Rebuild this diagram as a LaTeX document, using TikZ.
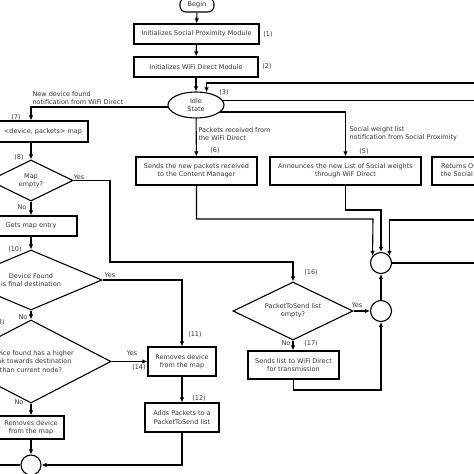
\documentclass[tikz,border=0pt]{standalone}
\usepackage{fontspec}
\setmainfont{DejaVu Sans}
\usetikzlibrary{shapes.geometric,arrows.meta}
\begin{document}
\begin{tikzpicture}[x=1pt,y=-1pt,line width=1.1pt,
  font=\fontsize{6.5}{8.2}\selectfont, text=black!80,
  box/.style={draw=black,rectangle,inner sep=0pt,align=center},
  dia/.style={draw=black,diamond,shape aspect=2,inner sep=0pt,align=center},
  circ/.style={draw=black,circle,minimum size=21pt,inner sep=0pt},
  arr/.style={-{Latex[length=5pt,width=4.5pt]}},
  lbl/.style={inner sep=0pt,align=left},
  num/.style={inner sep=0pt}]
\useasboundingbox (0,0) rectangle (474,474);
\clip (0,0) rectangle (474,474);
% main column
\node[box,rounded corners=6pt,minimum width=34pt,minimum height=14pt] (begin) at (197,5) {Begin};
\node[box,minimum width=125pt,minimum height=20pt] (b1) at (196.5,34) {Initializes Social Proximity Module};
\node[box,minimum width=124pt,minimum height=20pt] (b2) at (196,67) {Initializes WiFi Direct Module};
\node[draw=black,ellipse,minimum width=56pt,minimum height=26pt,inner sep=0pt,align=center] (idle) at (196,105) {Idle\\State};
\node[box,minimum width=121pt,minimum height=28pt] (b6) at (196.5,171) {Sends the new packets received\\to the Content Manager};
\node[box,minimum width=151pt,minimum height=28pt] (b5) at (345.5,171) {Announces the new List of Social weights\\through WiF Direct};
\node[box,minimum width=82pt,minimum height=28pt] (b4) at (473,171) {Returns Own List to\\the Social Proximity};
% left column
\node[box,minimum width=90pt,minimum height=21pt] (b7) at (43,131.5) {<device, packets> map};
\node[dia,minimum width=84pt,minimum height=41pt] (d8) at (31,180.5) {Map\\empty?};
\node[box,minimum width=92pt,minimum height=20pt] (bg) at (31,226) {Gets map entry};
\node[dia,minimum width=142pt,minimum height=60pt] (d10) at (31,280) {Device Found\\is final destination};
\node[dia,minimum width=160pt,minimum height=83pt] (d13) at (31,361.5) {Device found has a higher\\rank towards destination\\than current node?};
\node[box,minimum width=66pt,minimum height=23pt] (br) at (31,427.5) {Removes device\\from the map};
\node[circ,minimum size=20pt] (c3) at (31,465) {};
\node[box,minimum width=68pt,minimum height=29pt] (b11) at (182,361.5) {Removes device\\from the map};
\node[box,minimum width=74pt,minimum height=29pt] (b12) at (182,417.5) {Adds Packets to a\\PacketToSend list};
% right part
\node[circ] (c1) at (381,263) {};
\node[circ] (c2) at (381,311) {};
\node[dia,minimum width=120pt,minimum height=58pt] (d16) at (293,311) {PacketToSend list\\empty?};
\node[box,minimum width=91pt,minimum height=28pt] (b17) at (293.5,365) {Sends list to WiFi Direct\\for transmission};
% free ends and bends
\coordinate (eA) at (480,83);
\coordinate (eB) at (480,101);
\coordinate (eC) at (480,220);
\coordinate (eD) at (480,263);
\coordinate (eL) at (-6,465);
\coordinate (eBot) at (31,480);
\coordinate (j1) at (110,262);
\coordinate (j2) at (373,219);
\coordinate (j3) at (381,210);
\coordinate (j4) at (381,390);
% connectors
\draw[arr] (begin) -- (b1);
\draw[arr] (b1) -- (b2);
\draw[arr] (b2) -- (idle);
\draw[arr] (eA) -| (idle.50);
\draw (idle.9) -- (idle.9 -| eB);
\draw[arr] (idle.-16) -| (b5.north);
\draw[arr] (idle.184) -| (b7.north -| d8.north);
\draw[arr] (idle) -- (b6);
\draw[arr] (b6.south) |- (j2) -- (c1.140);
\draw[arr] (b5.south) |- (j3) -- (c1.north);
\draw[arr] (eC) -| (c1.40);
\draw (c1.east) -- (eD);
\draw[arr] (c2) -- (c1);
\draw[arr] (d16.east) -- (c2.west);
\draw[arr] (d16.south) -- (d16.south |- b17.north);
\draw[arr] (b17.south) |- (j4) -- (c2.south);
\draw[arr] (b7.south -| d8.north) -- (d8.north);
\draw[arr] (d8.east) -| (j1) -| (d16.north);
\draw[arr] (d8) -- (bg);
\draw[arr] (bg) -- (d10);
\draw[arr] (d10.east) -| (b11.north);
\draw[arr] (d10) -- (d13);
\draw[arr] (d13.east) -- (b11.west);
\draw[arr] (d13) -- (br);
\draw[arr] (br) -- (c3);
\draw[arr] (b11) -- (b12);
\draw[arr] (b12.south) |- (c3.east);
\draw (eL) -- (c3.west);
\draw (c3) -- (eBot);
% labels
\node[lbl,anchor=west] (t7) at (32,98) {New device found\\notification from WiFi Direct};
\node[lbl,anchor=west] (t6) at (198,134) {Packets received from\\the WiFi Direct};
\node[lbl,anchor=west] (t5) at (349,134) {Social weight list\\notification from Social Proximity};
\node[num] (n1) at (268,34) {(1)};
\node[num] (n2) at (267,66) {(2)};
\node[num] (n3) at (224,92) {(3)};
\node[num] (n5) at (364,151) {(5)};
\node[num] (n6) at (215,150) {(6)};
\node[num] (n7) at (16,117) {(7)};
\node[num] (n8) at (19,157) {(8)};
\node[num] (n10) at (15,249) {(10)};
\node[num] (n13) at (-2,322) {(13)};
\node[num] (n11) at (195,334) {(11)};
\node[num] (n12) at (199,398) {(12)};
\node[num] (n14) at (139,367) {(14)};
\node[num] (n16) at (311,272) {(16)};
\node[num] (n17) at (311,343) {(17)};
\node[num] (y8) at (79,177) {Yes};
\node[num] (no8) at (22,207) {No};
\node[num] (y10) at (110,275) {Yes};
\node[num] (no10) at (23,317) {No};
\node[num] (y13) at (132,353) {Yes};
\node[num] (no13) at (19,402) {No};
\node[num] (y16) at (357,305) {Yes};
\node[num] (no16) at (286,343) {No};
\end{tikzpicture}
\end{document}
